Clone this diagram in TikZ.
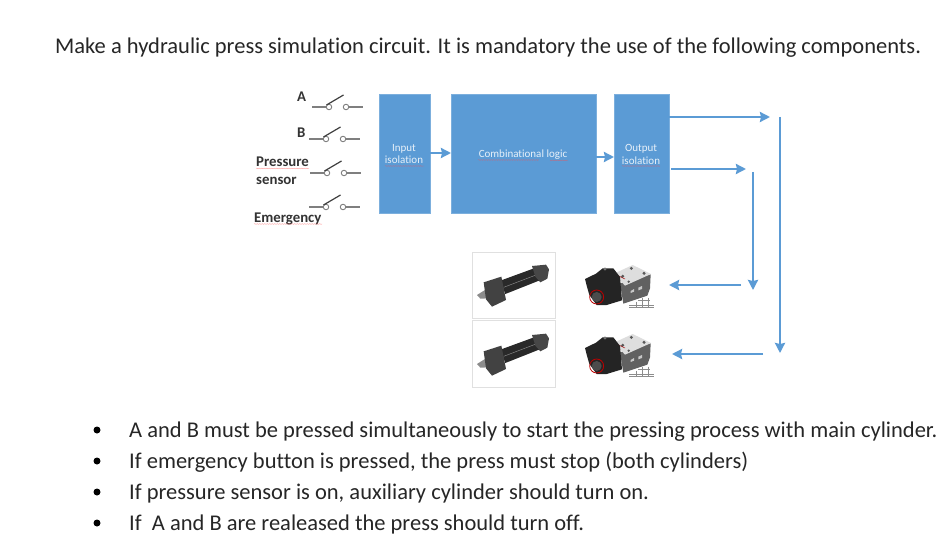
\documentclass[tikz,border=0pt]{standalone}
\usepackage{fontspec}
\setmainfont[Ligatures=CommonOff]{Carlito}
\usetikzlibrary{arrows.meta,decorations.pathmorphing}
\definecolor{bluebox}{HTML}{5B9BD5}
\definecolor{inktext}{HTML}{262626}
\definecolor{switchgrey}{HTML}{7F7F7F}
\tikzset{
  x=1pt,y=-1pt,
  mainline/.style={anchor=base west,inner sep=0pt,text=inktext,font=\fontsize{22.5}{24}\selectfont},
  bulletmark/.style={circle,fill=black,minimum size=7pt,inner sep=0pt},
  block/.style={fill=bluebox,draw=bluebox!80!white,line width=.4pt,inner sep=0pt},
  blocklabel/.style={text=white!85!bluebox,font=\fontsize{11}{12.8}\selectfont,align=center,inner sep=0pt},
  flow/.style={draw=bluebox,line width=2.6pt,-{Stealth[length=10pt,width=10pt,inset=1pt]}},
  switchwire/.style={draw=switchgrey,line width=1.2pt},
  switchlever/.style={draw=black!75,line width=1.2pt},
  contact/.style={circle,draw=switchgrey,fill=white,line width=.9pt,minimum size=5.5pt,inner sep=0pt},
  switchlabel/.style={anchor=base west,inner sep=0pt,text=black!80,font=\bfseries\fontsize{14.8}{16}\selectfont},
  squiggle/.style={draw=red!70!white,opacity=.55,line width=.4pt,decorate,decoration={snake,amplitude=.35pt,segment length=2.5pt}},
  photoframe/.style={draw=black!12,fill=white,line width=.6pt},
  pics/switchsym/.style={code={
    \node[contact] (-l) at (0,0) {};
    \node[contact] (-r) at (17,0) {};
    \coordinate (-a) at (-17,0);
    \draw[switchwire] (-a) -- (-l);
    \draw[switchwire] (-r) -- ++(17,0);
    \draw[switchlever] (-2.5,-2) -- (14.5,-12);
  }},
  % coordinates: thirds of a pixel, measured from the picture's corner
  pics/cylinderpic/.style={code={
    \begin{scope}[scale=1/3]
      \fill[black!45] (15,135) -- (42,118) -- (50,145) -- (25,146) -- cycle;
      \fill[black!84] (85,92) -- (200,50) -- (216,86) -- (100,132) -- cycle;
      \draw[black!45,line width=.45pt] (95,112) -- (205,70);
      \fill[black!74] (35,97) -- (88,80) -- (102,150) -- (60,170) -- (42,148) -- cycle;
      \fill[black!72] (180,48) -- (222,44) -- (231,58) -- (226,86) -- (205,97) -- (190,80) -- cycle;
    \end{scope}
  }},
  pics/valvepic/.style={code={
    \begin{scope}[scale=1/3]
      \fill[black!62] (150,85) -- (242,58) -- (240,100) -- (232,122) -- (160,146) -- cycle;
      \fill[black!13] (132,56) -- (188,30) -- (243,57) -- (165,92) -- cycle;
      \fill[black!65] (158,64) circle (5) (184,40) circle (5) (222,55) circle (5) (176,80) circle (4);
      \draw[red!65!black,line width=.45pt] (140,60) -- (165,72);
      \fill[black!22] (182,108) -- (192,102) -- (192,110) -- (182,114) -- cycle (205,98) -- (216,93) -- (216,102) -- (205,106) -- cycle;
      \fill[black!86] (45,72) -- (78,56) -- (98,40) -- (130,40) -- (150,66) -- (156,136) -- (110,150) -- (80,150) -- (58,120) -- (50,92) -- cycle;
      \fill[black!55] (105,42) circle (5);
      \draw[red!75!black,line width=.8pt] (80,126) circle (21);
      \fill[black!70] (80,126) circle (15);
      \draw[black!45,line width=.35pt] (178,150) -- (252,150) (178,156) -- (252,156) (198,140) -- (198,160) (215,128) -- (215,158) (233,128) -- (233,158) (205,136) -- (240,136);
    \end{scope}
  }},
}
\begin{document}
\begin{tikzpicture}
\useasboundingbox (0,0) rectangle (944,540);
\fill[white] (0,0) rectangle (944,540);

\node[mainline] (title) at (55,54) {Make a hydraulic press simulation circuit. It is mandatory the use of the following components.};

% photo frames
\draw[photoframe] (472,252) rectangle (555,318);
\draw[photoframe] (472,320) rectangle (555,387);
\pic at (472,250) {cylinderpic};
\pic at (472,319) {cylinderpic};
\pic at (570,255) {valvepic};
\pic at (570,324) {valvepic};

% blocks
\fill[block] (379,94) rectangle (430,213);
\fill[block] (451,94) rectangle (596,213);
\fill[block] (614,94) rectangle (669,213);
\node[blocklabel] (input) at (404,154) {Input\\isolation};
\node[blocklabel] (logic) at (523,155) {Combinational logic};
\node[blocklabel] (output) at (641,154.5) {Output\\isolation};
\draw[squiggle] (385,166) -- (424,166);
\draw[squiggle] (478,160) -- (538,160) (550,160) -- (568,160);
\draw[squiggle] (622,166) -- (660,166);
\coordinate (inR) at (430,153);
\coordinate (logL) at (451,153);
\coordinate (logR) at (596,157);
\coordinate (outL) at (614,157);
\coordinate (outA) at (669,117);
\coordinate (outB) at (671,169);
\coordinate (busAtop) at (780,117);
\coordinate (busAend) at (780,353);
\coordinate (busBtop) at (753,172);
\coordinate (busBend) at (753,290);
\coordinate (outAend) at (770,117);
\coordinate (outBend) at (746,169);
\coordinate (valveAfrom) at (741,285);
\coordinate (valveAto) at (669,285);
\coordinate (valveBfrom) at (763,354);
\coordinate (valveBto) at (672,354);

\draw[flow] (inR) -- (logL);
\draw[flow] (logR) -- (outL);
\draw[flow] (outA) -- (outAend);
\draw[flow] (outB) -- (outBend);
\draw[flow] (busAtop) -- (busAend);
\draw[flow] (busBtop) -- (busBend);
\draw[flow] (valveAfrom) -- (valveAto);
\draw[flow] (valveBfrom) -- (valveBto);

% switches
\pic (swa) at (329,107) {switchsym};
\pic (swb) at (326,139) {switchsym};
\pic (swp) at (327,173) {switchsym};
\pic (swe) at (326,207) {switchsym};
\node[switchlabel] (la) at (297,102) {A};
\node[switchlabel] (lb) at (297,138) {B};
\node[switchlabel] (lp) at (256,167) {Pressure};
\node[switchlabel] (ls) at (256,184) {sensor};
\node[switchlabel] (le) at (254,222) {Emergency};
\draw[squiggle] (256,168.5) -- (309,168.5);
\draw[squiggle] (254,224) -- (322,224);

% bullets
\node[bulletmark] (b1) at (97,430) {};
\node[bulletmark] (b2) at (97,461) {};
\node[bulletmark] (b3) at (97,492) {};
\node[bulletmark] (b4) at (97,523) {};
\node[mainline] (t1) at (129,437) {A and B must be pressed simultaneously to start the pressing process with main cylinder.};
\node[mainline] (t2) at (129,468) {If emergency button is pressed, the press must stop (both cylinders)};
\node[mainline] (t3) at (129,499) {If pressure sensor is on, auxiliary cylinder should turn on.};
\node[mainline] (t4) at (129,530) {If\ \ A and B are realeased the press should turn off.};
\end{tikzpicture}
\end{document}
